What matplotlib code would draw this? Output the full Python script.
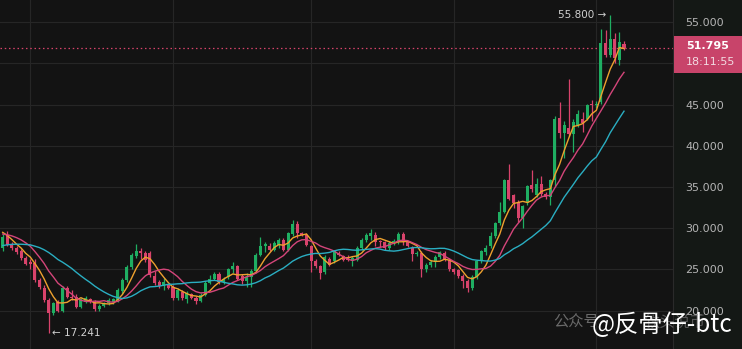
import numpy as np
import pandas as pd
import matplotlib
matplotlib.use("Agg")
from matplotlib import pyplot as plt
from matplotlib import patches as patches

## # Candle data, one entry per candle
opens = [27.6, 29.2, 28.0, 27.6, 27.2, 26.4, 25.9, 25.8, 23.7, 22.7,
         21.3, 19.7, 21.1, 20.0, 22.7, 21.7, 21.7, 20.5, 21.1, 21.4,
         21.1, 20.2, 20.6, 20.9, 21.0, 21.3, 22.4, 23.7, 25.3, 26.6,
         27.3, 27.0, 27.0, 24.2, 23.5, 23.0, 23.1, 22.9, 21.5, 22.3,
         21.4, 22.0, 21.5, 21.2, 21.9, 23.4, 23.9, 24.5, 23.5, 24.1,
         25.0, 25.4, 24.2, 23.6, 24.1, 24.8, 26.8, 27.8, 27.9, 27.4,
         28.0, 28.6, 27.4, 29.3, 30.5, 29.4, 29.2, 27.9, 26.0, 25.4,
         24.7, 26.3, 26.0, 27.0, 26.6, 26.5, 26.0, 26.2, 27.6, 28.6,
         29.0, 29.2, 28.4, 28.3, 27.6, 28.2, 28.3, 29.3, 28.3, 27.6,
         26.9, 27.0, 25.0, 25.5, 25.9, 26.5, 27.0, 26.2, 25.0, 24.9,
         24.2, 23.6, 22.7, 24.1, 26.0, 27.1, 27.8, 29.0, 30.6, 32.0,
         35.8, 34.0, 33.2, 31.2, 33.0, 35.2, 34.0, 35.4, 34.2, 33.8,
         35.8, 43.4, 41.6, 42.1, 41.4, 42.5, 43.3, 43.3, 45.1, 44.9,
         45.3, 52.5, 51.0, 52.9, 50.4, 52.3]
highs = [29.3, 29.7, 28.3, 27.9, 27.5, 26.6, 26.3, 26.3, 24.0, 23.1,
         21.5, 21.0, 21.3, 23.0, 23.0, 22.5, 22.0, 21.6, 21.8, 21.6,
         21.3, 20.8, 21.0, 21.5, 21.6, 22.7, 24.0, 25.5, 27.0, 28.1,
         27.6, 27.2, 27.3, 24.8, 23.7, 24.0, 23.3, 23.1, 22.7, 22.5,
         22.4, 22.2, 21.8, 22.1, 23.6, 24.3, 24.7, 24.7, 24.1, 25.2,
         25.9, 25.6, 24.4, 24.6, 25.0, 27.0, 28.9, 28.3, 28.2, 28.4,
         28.8, 28.8, 29.6, 31.0, 30.9, 29.6, 29.4, 28.0, 26.3, 25.6,
         26.8, 26.5, 27.4, 27.3, 26.8, 26.7, 26.6, 27.8, 28.8, 29.4,
         29.9, 29.6, 28.6, 28.5, 28.4, 28.7, 29.5, 29.6, 28.5, 27.8,
         27.3, 27.2, 25.8, 26.1, 26.7, 27.3, 27.2, 26.4, 25.2, 25.1,
         24.4, 23.8, 24.3, 26.2, 27.4, 28.0, 29.5, 30.8, 33.2, 36.0,
         37.8, 34.2, 33.4, 32.8, 35.3, 37.0, 36.1, 36.3, 34.4, 36.0,
         43.6, 45.3, 43.0, 48.1, 43.2, 44.3, 44.1, 45.1, 45.6, 45.4,
         54.1, 54.0, 55.8, 53.7, 53.8, 52.7]
lows = [27.2, 27.8, 27.4, 26.9, 26.2, 25.5, 25.0, 23.5, 22.6, 21.0,
        17.241, 19.5, 19.8, 19.8, 21.5, 21.3, 20.3, 20.3, 20.9, 20.9,
        20.0, 20.0, 20.5, 20.7, 20.8, 21.1, 22.0, 23.5, 25.1, 26.4,
        26.3, 25.9, 24.1, 23.1, 22.8, 22.5, 22.6, 21.3, 21.3, 21.3,
        20.9, 21.4, 20.8, 21.0, 21.8, 23.2, 23.7, 23.3, 23.3, 23.9,
        24.6, 23.7, 23.3, 22.9, 22.9, 24.6, 26.6, 27.1, 27.2, 27.2,
        27.6, 27.2, 27.2, 29.1, 28.8, 29.0, 27.8, 24.7, 25.2, 23.9,
        24.5, 25.4, 25.8, 26.6, 26.0, 26.0, 25.4, 26.0, 27.4, 28.3,
        28.6, 27.9, 27.7, 27.4, 27.4, 28.0, 28.1, 28.0, 27.7, 26.0,
        26.6, 24.1, 24.7, 25.3, 25.3, 26.3, 26.0, 24.8, 24.5, 24.0,
        22.8, 22.3, 22.5, 23.9, 25.8, 26.8, 27.6, 28.8, 30.4, 31.8,
        33.4, 32.4, 30.8, 30.0, 32.8, 34.4, 33.8, 33.9, 33.6, 32.8,
        35.0, 40.9, 38.5, 41.2, 39.2, 42.3, 41.7, 43.1, 43.0, 44.6,
        45.1, 50.8, 50.8, 50.0, 49.8, 51.6]
closes = [28.9, 28.0, 27.6, 27.1, 26.4, 25.7, 25.7, 23.7, 22.9, 21.3,
          19.7, 20.9, 20.0, 22.8, 21.7, 21.5, 20.5, 21.4, 21.5, 21.1,
          20.2, 20.6, 20.9, 21.3, 21.4, 22.5, 23.7, 25.3, 26.8, 27.3,
          27.0, 26.1, 24.3, 23.4, 23.0, 23.5, 22.8, 21.5, 22.5, 21.5,
          22.1, 21.6, 21.2, 21.9, 23.4, 23.9, 24.5, 23.5, 23.9, 25.0,
          25.4, 23.9, 23.6, 24.1, 24.8, 26.8, 27.8, 28.1, 27.4, 28.2,
          28.6, 27.4, 29.4, 30.5, 29.4, 29.2, 28.0, 26.0, 25.4, 24.6,
          26.5, 25.6, 27.2, 26.8, 26.2, 26.2, 26.4, 27.6, 28.6, 29.2,
          29.4, 28.3, 28.3, 27.6, 28.2, 28.4, 29.3, 28.3, 27.9, 26.9,
          27.0, 25.0, 25.5, 25.9, 26.5, 27.1, 26.2, 25.0, 24.7, 24.2,
          23.6, 22.7, 24.1, 26.0, 27.2, 27.6, 29.0, 30.6, 32.0, 35.8,
          33.6, 33.0, 31.2, 32.7, 35.1, 34.8, 35.4, 34.2, 33.8, 35.8,
          43.3, 41.6, 42.5, 41.4, 42.9, 43.9, 42.7, 44.9, 44.9, 45.1,
          52.5, 51.0, 52.9, 50.6, 52.6, 51.795]

# closes left of the visible window (only feed the moving averages,
# estimated from where the MA lines start at the left edge)
prior_closes = [26.2, 26.4, 26.8, 26.5, 26.3, 26.6, 26.9, 26.4, 26.5, 26.4,
                28.9, 29.0, 29.2, 29.1, 29.3, 29.9, 30.1, 29.8, 28.8]

ma_periods = [5, 10, 20]
price_ticks = [20, 25, 30, 35, 40, 45, 55]
grid_levels = [20, 25, 30, 35, 40, 45, 50, 55]
month_lines = [6, 37, 67, 98, 129]
last_price = 51.795
last_time = "18:11:55"
high_label = "55.800 \u2192"
low_label = "\u2190 17.241"

bg = "#131313"
up_col = "#1fae62"
down_col = "#d8436b"
ma_cols = ["#eea12e", "#d4457a", "#2aaec2"]
txt_col = "#b4b4b4"
grid_col = "#262626"

df = pd.DataFrame({"open": opens, "high": highs, "low": lows, "close": closes})
xs = np.arange(len(df))
all_closes = pd.Series(prior_closes + closes)

fig = plt.figure(figsize=(7.42, 3.49), dpi=100, facecolor=bg)
ax = fig.add_axes([0, 0, 673 / 742, 1])
ax.set_facecolor(bg)

# price scale strip on the right
fig.patches.append(patches.Rectangle((673 / 742, 0), 69 / 742, 1, transform=fig.transFigure,
                                     facecolor="#141815", edgecolor="none", zorder=-1))

ax.set_xlim(-0.59, 145.65)
ax.set_ylim(15.36, 57.67)

for lv in grid_levels:
    ax.axhline(lv, color=grid_col, lw=0.8, zorder=0)
for mx in month_lines:
    ax.axvline(mx, color=grid_col, lw=0.8, zorder=0)

## # candles
up = df["close"] >= df["open"]
cols = np.where(up, up_col, down_col)
ax.vlines(xs, df["low"], df["high"], colors=cols, lw=0.9, zorder=2)
body_lo = np.minimum(df["open"], df["close"])
body_h = np.maximum(np.abs(df["close"] - df["open"]), 0.12)
ax.bar(xs, body_h, bottom=body_lo, width=0.66, color=cols, edgecolor="none", zorder=3)

## # moving averages
n_prior = len(prior_closes)
for per, c in zip(ma_periods, ma_cols):
    ma = all_closes.rolling(per, min_periods=1).mean().values[n_prior:]
    ax.plot(xs, ma, color=c, lw=1.0, zorder=4)

# last price line
ax.axhline(last_price, color=down_col, lw=0.9, ls=(0, (1.2, 2.2)), zorder=1)

# high / low markers
ax.text(132 - 0.9, 55.8, high_label, color="#d0d0d0", fontsize=7.5, ha="right", va="center")
ax.text(10 + 0.8, 17.241, low_label, color="#d0d0d0", fontsize=7.5, ha="left", va="center")

for s in ax.spines.values():
    s.set_visible(False)
ax.set_xticks([])
ax.set_yticks(price_ticks)
ax.set_yticklabels(["%.3f" % p for p in price_ticks])
ax.tick_params(axis="y", left=False, labelleft=False, right=True, labelright=True,
               length=0, pad=9, labelsize=8, labelcolor=txt_col)

# separator between chart and price scale
fig.add_artist(plt.Line2D([673 / 742, 673 / 742], [0, 1], transform=fig.transFigure,
                          color="#2a2a2a", lw=0.8))

# last price box
fig.patches.append(patches.Rectangle((674 / 742, 1 - 73 / 349), 68 / 742, 37 / 349,
                                     transform=fig.transFigure, facecolor="#c8446a",
                                     edgecolor="none", zorder=5))
fig.text(686 / 742, 1 - 46 / 349, "%.3f" % last_price, color="white", fontsize=8,
         fontweight="bold", ha="left", va="center", zorder=6)
fig.text(686 / 742, 1 - 62 / 349, last_time, color="#f2dbe2", fontsize=8,
         ha="left", va="center", zorder=6)

## # watermark
cjk = ["Noto Sans CJK SC", "DejaVu Sans"]
fig.text(553 / 742, 1 - 322 / 349, "\u516c\u4f17\u53f7", color="#6a6a6a", fontsize=11,
         family=cjk, ha="left", va="center", zorder=6)
fig.text(645 / 742, 1 - 322 / 349, "\u94c1\u5934\u8bf4\u5e01", color="#5a5a5a", fontsize=11,
         family=cjk, ha="left", va="center", zorder=6)
fig.text(592 / 742, 1 - 325 / 349, "@\u53cd\u9aa8\u4ed4-btc", color="white", fontsize=17.5,
         family=cjk, ha="left", va="center", zorder=7)

fig.savefig("out.png", dpi=100, facecolor=bg)
